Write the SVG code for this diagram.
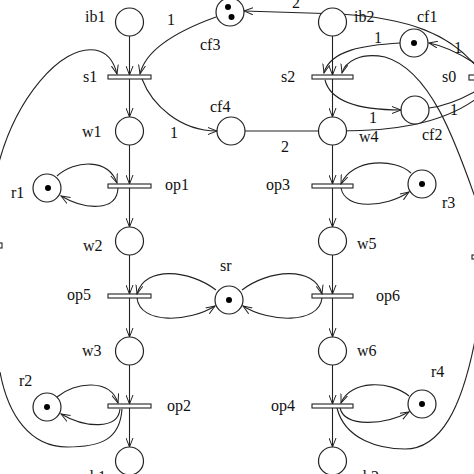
<svg xmlns="http://www.w3.org/2000/svg" width="474" height="474" viewBox="0 0 474 474">
<style>
.p{fill:#fff;stroke:#222;stroke-width:1.2}
.t{fill:none;stroke:#222;stroke-width:1.1}
.c{fill:none;stroke:#222;stroke-width:1.1}
.k{fill:#000}
text{font-family:"Liberation Serif","Times New Roman",serif;font-size:16px;fill:#111}
</style>
<defs>
<marker id="a" markerWidth="10" markerHeight="8" refX="9" refY="4" orient="auto" markerUnits="userSpaceOnUse">
<path d="M0,0.5 L9,4 L0,7.5" fill="none" stroke="#222" stroke-width="1"/>
</marker>
</defs>
<rect width="474" height="474" fill="#fff"/>
<g id="connectors">
<path class="c" marker-end="url(#a)" d="M129.5,36 L129.5,75"/>
<path class="c" marker-end="url(#a)" d="M129.5,79 L129.5,117"/>
<path class="c" marker-end="url(#a)" d="M129.5,145 L129.5,184"/>
<path class="c" marker-end="url(#a)" d="M129.5,188 L129.5,227"/>
<path class="c" marker-end="url(#a)" d="M129.5,255 L129.5,294"/>
<path class="c" marker-end="url(#a)" d="M129.5,298 L129.5,337"/>
<path class="c" marker-end="url(#a)" d="M129.5,365 L129.5,404"/>
<path class="c" marker-end="url(#a)" d="M129.5,408 L129.5,447"/>
<path class="c" marker-end="url(#a)" d="M332.5,36 L332.5,75"/>
<path class="c" marker-end="url(#a)" d="M332.5,79 L332.5,117"/>
<path class="c" marker-end="url(#a)" d="M332.5,145 L332.5,184"/>
<path class="c" marker-end="url(#a)" d="M332.5,188 L332.5,227"/>
<path class="c" marker-end="url(#a)" d="M332.5,255 L332.5,294"/>
<path class="c" marker-end="url(#a)" d="M332.5,298 L332.5,337"/>
<path class="c" marker-end="url(#a)" d="M332.5,365 L332.5,404"/>
<path class="c" marker-end="url(#a)" d="M332.5,408 L332.5,447"/>
<!-- cf3 -> s1 -->
<path class="c" marker-end="url(#a)" d="M216,17 C180,30 146,48 140,74"/>
<!-- e1 -> s1 -->
<path class="c" marker-end="url(#a)" d="M-2,166 C15,100 60,45 95,50 C108,52 114,62 117,74"/>
<!-- s1 -> cf4 -->
<path class="c" marker-end="url(#a)" d="M142,79 C152,105 180,131 217,131"/>
<!-- cf4 -> s0 -->
<path class="c" d="M245,131 L340,131 C390,131 440,125 476,99"/>
<!-- cf1 -> s2 -->
<path class="c" marker-end="url(#a)" d="M400,43 C365,45 330,50 324,73"/>
<!-- e2 -> s2 -->
<path class="c" marker-end="url(#a)" d="M476,200 C455,140 430,70 385,57 C360,52 345,62 342,73"/>
<!-- s2 -> cf2 -->
<path class="c" marker-end="url(#a)" d="M325,80 C330,100 355,110 401,110"/>
<!-- cf2 -> s0 -->
<path class="c" d="M429,108 C445,106 460,100 476,91"/>
<!-- s0 -> cf1 -->
<path class="c" marker-end="url(#a)" d="M476,64 C462,55 445,46 429,43"/>
<!-- s0 -> cf3 -->
<path class="c" marker-end="url(#a)" d="M476,66 C450,35 410,18 340,14 L244,11"/>
<!-- r1 / op1 -->
<path class="c" marker-end="url(#a)" d="M57,176 C75,160 108,158 117,183"/>
<path class="c" marker-end="url(#a)" d="M118,188 C117,212 85,210 61,196"/>
<!-- r3 / op3 -->
<path class="c" marker-end="url(#a)" d="M411,173 C395,158 352,158 341,184"/>
<path class="c" marker-end="url(#a)" d="M341,188 C345,210 385,208 409,192"/>
<!-- sr / op5, op6 -->
<path class="c" marker-end="url(#a)" d="M216,290 C190,270 145,265 137,294"/>
<path class="c" marker-end="url(#a)" d="M137,298 C140,325 190,322 215,306"/>
<path class="c" marker-end="url(#a)" d="M242,290 C268,270 314,265 322,294"/>
<path class="c" marker-end="url(#a)" d="M322,298 C319,325 268,322 243,306"/>
<!-- r2 / op2 -->
<path class="c" marker-end="url(#a)" d="M57,397 C75,382 110,378 118,403"/>
<path class="c" marker-end="url(#a)" d="M120,409 C118,430 85,428 61,414"/>
<path class="c" d="M122,409 C120,440 100,447 67,447 C30,447 8,415 0,372"/>
<!-- r4 / op4 -->
<path class="c" marker-end="url(#a)" d="M409,396 C390,380 350,380 341,403"/>
<path class="c" marker-end="url(#a)" d="M340,408 C345,428 385,425 409,412"/>
<path class="c" d="M337,408 C345,440 380,449 405,449 C440,449 462,410 476,335"/>
</g>
<g id="arc-labels">
<text x="167" y="25">1</text>
<text x="170" y="138">1</text>
<text x="281" y="152">2</text>
<text x="292" y="8">2</text>
<text x="374" y="43">1</text>
<text x="369" y="123">1</text>
<text x="454" y="53">1</text>
<text x="450" y="115">1</text>
</g>
<g id="ib1"><circle class="p" cx="129.5" cy="22" r="14"/><text x="85" y="22">ib1</text></g>
<g id="s1"><rect class="t" x="108" y="75" width="43" height="4"/><text x="83" y="82">s1</text></g>
<g id="w1"><circle class="p" cx="129.5" cy="131" r="14"/><text x="82" y="137">w1</text></g>
<g id="op1"><rect class="t" x="108" y="184" width="43" height="4"/><text x="165" y="190">op1</text></g>
<g id="w2"><circle class="p" cx="129.5" cy="241" r="14"/><text x="83" y="251">w2</text></g>
<g id="op5"><rect class="t" x="108" y="294" width="43" height="4"/><text x="67" y="300">op5</text></g>
<g id="w3"><circle class="p" cx="129.5" cy="351" r="14"/><text x="82" y="356">w3</text></g>
<g id="op2"><rect class="t" x="108" y="404" width="43" height="4"/><text x="167" y="411">op2</text></g>
<g id="ob1"><circle class="p" cx="129.5" cy="461" r="14"/><text x="82" y="482">ob1</text></g>
<g id="ib2"><circle class="p" cx="332.5" cy="22" r="14"/><text x="354" y="22">ib2</text></g>
<g id="s2"><rect class="t" x="312" y="75" width="41" height="4"/><text x="281" y="82">s2</text></g>
<g id="w4"><circle class="p" cx="332.5" cy="131" r="14"/><text x="359" y="142">w4</text></g>
<g id="op3"><rect class="t" x="312" y="184" width="41" height="4"/><text x="266" y="190">op3</text></g>
<g id="w5"><circle class="p" cx="332.5" cy="241" r="14"/><text x="357" y="249">w5</text></g>
<g id="op6"><rect class="t" x="312" y="294" width="41" height="4"/><text x="376" y="301">op6</text></g>
<g id="w6"><circle class="p" cx="332.5" cy="351" r="14"/><text x="357" y="356">w6</text></g>
<g id="op4"><rect class="t" x="312" y="404" width="41" height="4"/><text x="271" y="411">op4</text></g>
<g id="ob2"><circle class="p" cx="332.5" cy="461" r="14"/><text x="355" y="482">ob2</text></g>
<g id="cf3"><circle class="p" cx="230" cy="12" r="14"/><circle class="k" cx="228" cy="7" r="3"/><circle class="k" cx="231.5" cy="17" r="3"/><text x="200" y="50">cf3</text></g>
<g id="cf4"><circle class="p" cx="231" cy="131" r="14"/><text x="210" y="112">cf4</text></g>
<g id="cf1"><circle class="p" cx="414" cy="43" r="14"/><circle class="k" cx="414" cy="43" r="3"/><text x="417" y="22">cf1</text></g>
<g id="cf2"><circle class="p" cx="415" cy="110" r="14"/><text x="422" y="140">cf2</text></g>
<g id="s0"><rect class="t" x="469" y="75" width="40" height="5"/><text x="442" y="82">s0</text></g>
<g id="r1"><circle class="p" cx="47" cy="188" r="14"/><circle class="k" cx="48" cy="188" r="3"/><text x="11" y="198">r1</text></g>
<g id="r2"><circle class="p" cx="47" cy="407" r="14"/><circle class="k" cx="47" cy="407" r="3"/><text x="19" y="386">r2</text></g>
<g id="r3"><circle class="p" cx="422" cy="184" r="14"/><circle class="k" cx="422" cy="184" r="3"/><text x="442" y="208">r3</text></g>
<g id="r4"><circle class="p" cx="422" cy="404" r="14"/><circle class="k" cx="422" cy="404" r="3"/><text x="431" y="377">r4</text></g>
<g id="sr"><circle class="p" cx="229" cy="300" r="14"/><circle class="k" cx="229" cy="300" r="3"/><text x="220" y="271">sr</text></g>
<g id="e1"><rect class="t" x="-42" y="243" width="44" height="5"/></g>
<g id="e2"><rect class="t" x="472" y="255" width="40" height="4"/></g>
</svg>
